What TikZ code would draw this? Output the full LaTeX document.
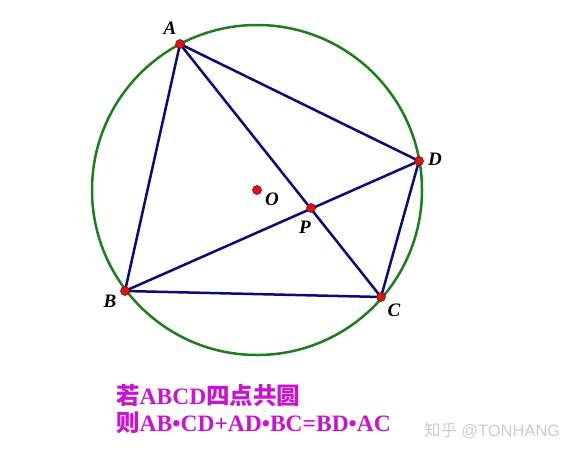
\documentclass[tikz,border=0pt]{standalone}
\usepackage{fontspec}
\setmainfont{Liberation Serif}
\newfontfamily\cjk{Noto Sans CJK SC}
\newfontfamily\wsans{Liberation Sans}
\definecolor{circg}{RGB}{30,125,30}
\definecolor{navy}{RGB}{10,10,120}
\definecolor{ptred}{RGB}{220,20,20}
\definecolor{mag}{RGB}{200,20,210}
\begin{document}
\begin{tikzpicture}[x=1pt,y=-1pt,
  seg/.style={draw=navy,line width=2.5pt},
  pt/.style={circle,fill=ptred,draw=red!50!black,line width=0.5pt,inner sep=0pt,minimum size=9pt},
  lab/.style={font=\fontsize{19}{19}\selectfont\bfseries\itshape,inner sep=0pt}]
\useasboundingbox (0,0) rectangle (577,455);
\fill[white] (0,0) rectangle (577,455);
\node[pt] (O) at (257,190) {};
\draw[circg,line width=2.5pt] (O.center) circle[radius=165];
\coordinate (A) at (180,44);
\coordinate (B) at (125,291);
\coordinate (C) at (381,297);
\coordinate (D) at (419,161);
\coordinate (P) at (311,208);
\draw[seg,line join=round] (A) -- (B) -- (C) -- (D) -- cycle;
\draw[seg] (A) -- (C);
\draw[seg] (B) -- (D);
\node[pt] (pA) at (A) {};
\node[pt] (pB) at (B) {};
\node[pt] (pC) at (C) {};
\node[pt] (pD) at (D) {};
\node[pt] (pP) at (P) {};
\node[lab] (lA) at (170,28) {A};
\node[lab] (lO) at (272,199) {O};
\node[lab] (lP) at (305,227) {P};
\node[lab] (lB) at (110,301) {B};
\node[lab] (lC) at (394,310) {C};
\node[lab] (lD) at (435,159) {D};
\node[anchor=west,inner sep=0pt,text=mag,font=\fontsize{23.5}{23.5}\selectfont\bfseries] (t1) at (116,396) {{\cjk\bfseries 若}ABCD{\cjk\bfseries 四点共圆}};
\node[anchor=west,inner sep=0pt,text=mag,font=\fontsize{23.5}{23.5}\selectfont\bfseries] (t2) at (116,423) {{\cjk\bfseries 则}AB•CD+AD•BC=BD•AC};
\node[anchor=west,inner sep=0pt,text=black!20,font=\fontsize{16.5}{16.5}\selectfont] (wm) at (424,431) {{\cjk 知乎} {\wsans @TONHANG}};
\end{tikzpicture}
\end{document}
